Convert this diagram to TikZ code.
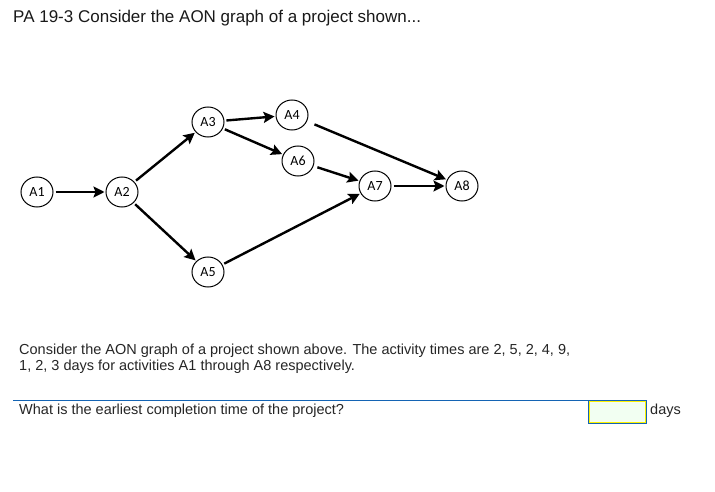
\documentclass[tikz,border=0pt]{standalone}
\usepackage{fontspec}
\setmainfont{Liberation Sans}
\newfontfamily\calib{Carlito}
\usetikzlibrary{arrows.meta,shapes.geometric}
\begin{document}
\begin{tikzpicture}[x=1pt,y=-1pt,
  act/.style={draw,line width=1pt,ellipse,minimum width=32pt,minimum height=30pt,inner sep=0pt,font=\calib\fontsize{14}{15}\selectfont},
  arr/.style={-{Stealth[length=11pt,width=11pt,inset=2pt]},line width=2.4pt,shorten >=1pt,shorten <=2pt},
  txt/.style={anchor=west,inner sep=0pt,font=\fontsize{14.5}{16}\selectfont,text=black!85}]
\useasboundingbox (0,0) rectangle (715,492);
\fill[white] (0,0) rectangle (715,492);
\node[txt,font=\fontsize{17}{19}\selectfont,text=black!90] (title) at (13,18) {PA 19-3 Consider the AON graph of a project shown...};
\node[act] (A1) at (37,192) {A1};
\node[act] (A2) at (122,192) {A2};
\node[act] (A3) at (208,122) {A3};
\node[act] (A4) at (292,115) {A4};
\node[act] (A6) at (298,161) {A6};
\node[act] (A7) at (375,186) {A7};
\node[act] (A8) at (462,186) {A8};
\node[act] (A5) at (208,272) {A5};
\draw[arr] (A1) -- (A2);
\draw[arr] (A2) -- (A3);
\draw[arr] (A2) -- (A5);
\draw[arr] (A3) -- (A4);
\draw[arr] (A3) -- (A6);
\draw[arr,shorten <=8pt] (A4) -- (A8);
\draw[arr,shorten <=4pt] (A6) -- (A7);
\draw[arr] (A5) -- (A7);
\draw[arr] (A7) -- (A8);
\node[txt] (p1) at (19,351) {Consider the AON graph of a project shown above. The activity times are 2, 5, 2, 4, 9,};
\node[txt] (p2) at (19,367) {1, 2, 3 days for activities A1 through A8 respectively.};
\draw[color={rgb,255:red,20;green,100;blue,180}] (13,400.5) -- (588,400.5);
\node[txt] (q) at (19,411) {What is the earliest completion time of the project?};
\draw[fill={rgb,255:red,242;green,255;blue,242},draw={rgb,255:red,20;green,100;blue,180}] (588.5,400.5) rectangle (646.5,423.5);
\draw[draw=yellow,line width=1.2pt] (589.6,401.6) rectangle (645.4,422.4);
\node[txt] (d) at (650,411) {days};
\end{tikzpicture}
\end{document}
